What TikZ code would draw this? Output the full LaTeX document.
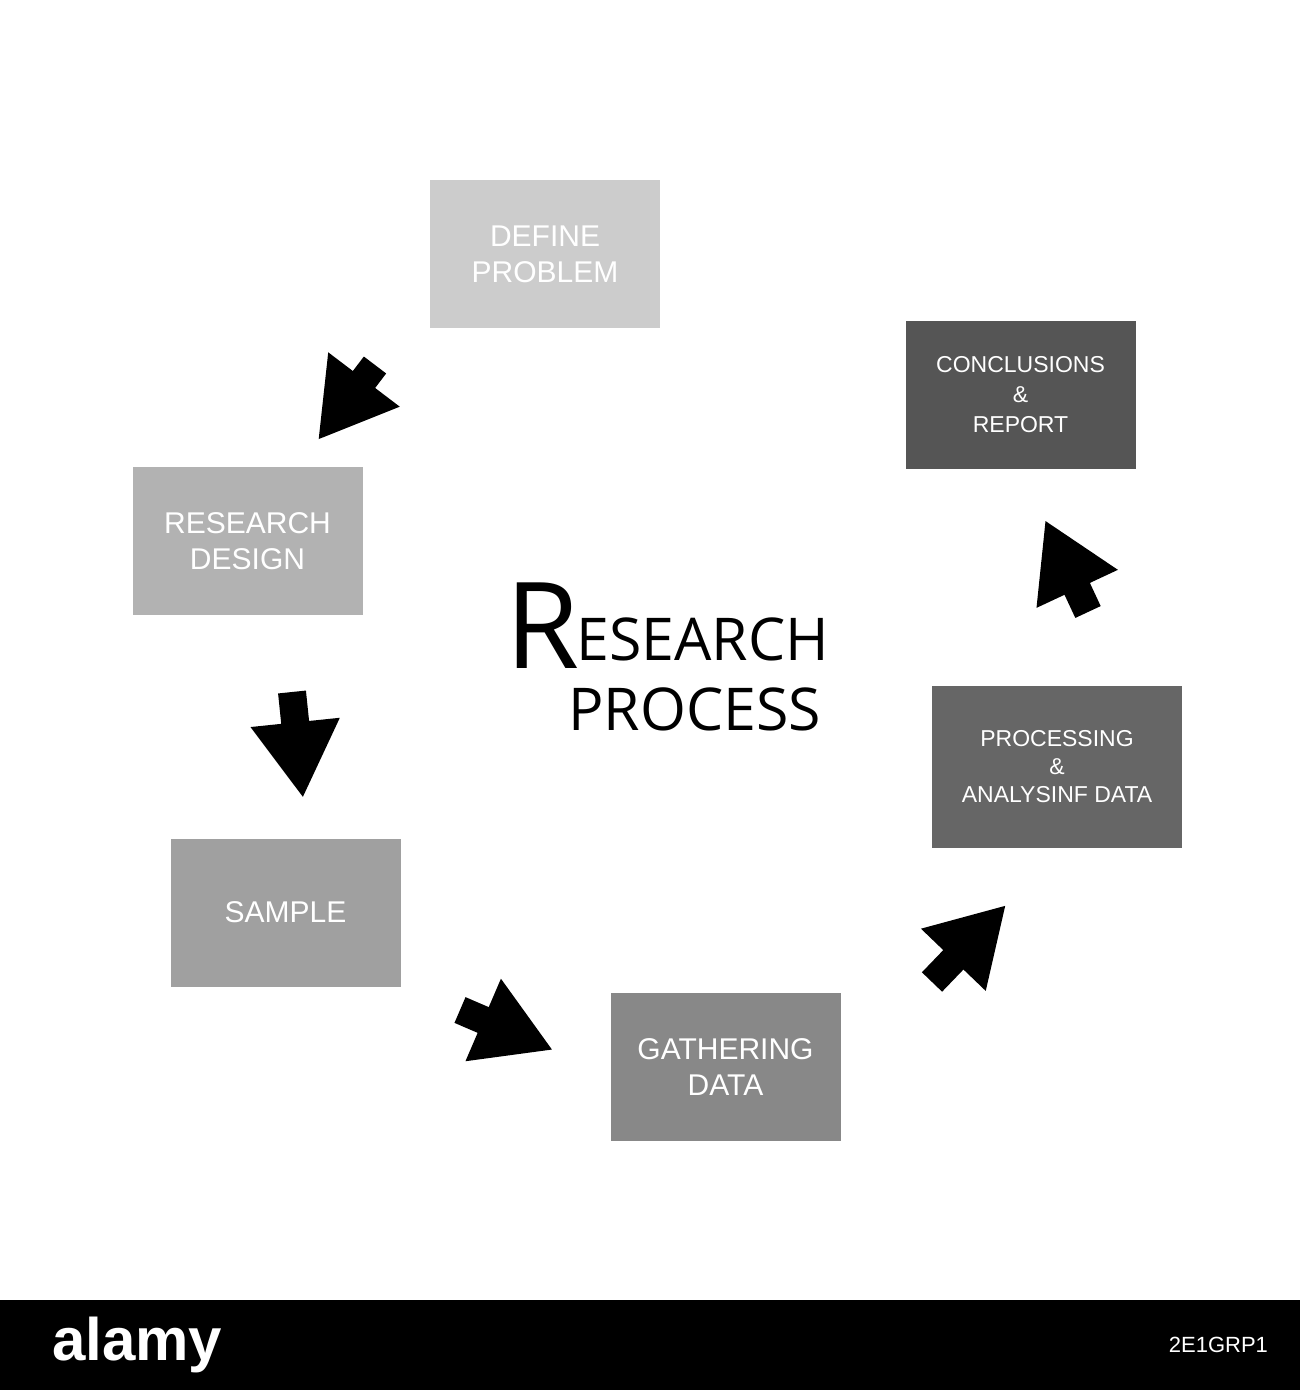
\documentclass[tikz,border=0pt]{standalone}
\usepackage{fontspec}
\setmainfont{Liberation Sans}
\newfontfamily\titlefont{Open Sans}
\usetikzlibrary{arrows.meta}
\begin{document}
\begin{tikzpicture}[x=0.5pt,y=-0.5pt,
  stepbox/.style={minimum width=115pt,minimum height=74pt,inner sep=0pt,text=white,align=center,font=\fontsize{15}{18}\selectfont},
  bigarr/.style={line width=14pt,-{Triangle[width=42pt,length=38pt]}}]
\useasboundingbox (0,0) rectangle (1300,1390);
\fill[white] (0,0) rectangle (1300,1390);
\node[stepbox,fill={rgb,255:red,204;green,204;blue,204}] (def) at (545,254) {DEFINE\\PROBLEM};
\node[stepbox,fill={rgb,255:red,178;green,178;blue,178}] (des) at (247.5,541) {RESEARCH\\DESIGN};
\node[stepbox,fill={rgb,255:red,160;green,160;blue,160}] (smp) at (285.5,912.5) {SAMPLE};
\node[stepbox,fill={rgb,255:red,136;green,136;blue,136}] (gat) at (725.5,1067) {GATHERING\\DATA};
\node[stepbox,minimum width=125pt,minimum height=81pt,font=\fontsize{11.5}{14}\selectfont,fill={rgb,255:red,102;green,102;blue,102}] (pro) at (1057,767) {PROCESSING\\\&\\ANALYSINF DATA};
\node[stepbox,font=\fontsize{11.5}{15}\selectfont,fill={rgb,255:red,85;green,85;blue,85}] (con) at (1020.5,395) {CONCLUSIONS\\\&\\REPORT};
\coordinate (a1s) at (375,365); \coordinate (a1e) at (318,440);
\coordinate (a2s) at (292,692); \coordinate (a2e) at (303,798);
\coordinate (a3s) at (460,1010); \coordinate (a3e) at (553,1050);
\coordinate (a4s) at (932,982); \coordinate (a4e) at (1006,905);
\coordinate (a5s) at (1088,612); \coordinate (a5e) at (1045,520);
\foreach \i in {1,...,5} \draw[bigarr] (a\i s) -- (a\i e);
\node[anchor=base west,inner sep=0,font=\titlefont\fontsize{60}{60}\selectfont] (r) at (505,668) {R};
\node[anchor=base west,inner sep=0,font=\titlefont\fontsize{29.5}{30}\selectfont] (es) at (576,660) {ESEARCH};
\node[anchor=base west,inner sep=0,font=\titlefont\fontsize{29.5}{30}\selectfont] (pr) at (568,730) {PROCESS};
\fill[black] (0,1300) rectangle (1300,1390);
\node[anchor=west,text=white,font=\bfseries\fontsize{30}{30}\selectfont] (al) at (45,1345) {alamy};
\node[anchor=east,text=white,font=\fontsize{11}{12}\selectfont] (id) at (1275,1345) {2E1GRP1};
\end{tikzpicture}
\end{document}
